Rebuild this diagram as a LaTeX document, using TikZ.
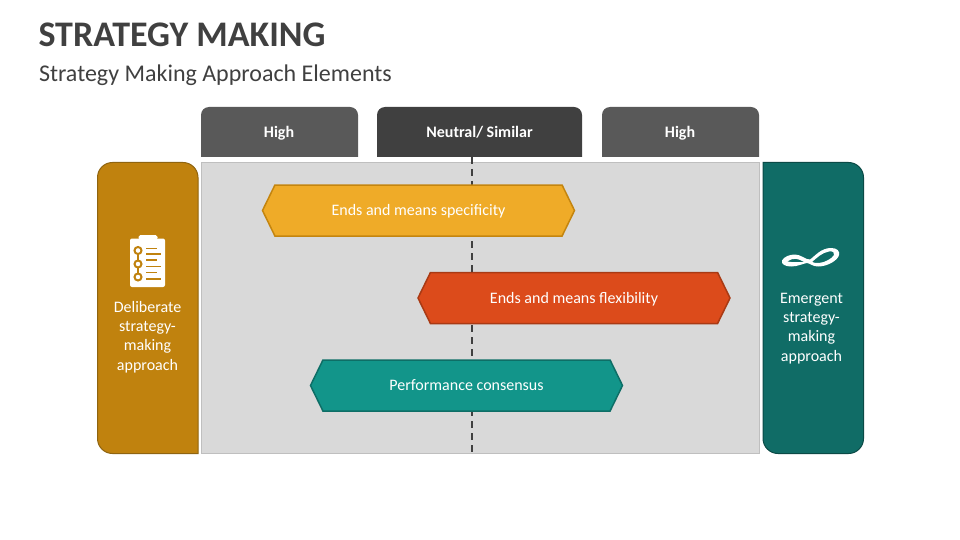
\documentclass[tikz,border=0pt]{standalone}
\usepackage{fontspec}
\setmainfont{Carlito}
\usetikzlibrary{positioning,shapes.symbols}
\definecolor{goldpanel}{HTML}{C0820E}
\definecolor{goldline}{HTML}{8F6410}
\definecolor{tealpanel}{HTML}{106C66}
\definecolor{tealline}{HTML}{0B4A46}
\definecolor{greypanel}{HTML}{D9D9D9}
\definecolor{greyline}{HTML}{BFBFBF}
\definecolor{tabside}{HTML}{595959}
\definecolor{tabmid}{HTML}{404040}
\definecolor{titlegrey}{HTML}{404040}
\definecolor{amberhex}{HTML}{EFAB28}
\definecolor{amberline}{HTML}{C4850F}
\definecolor{redhex}{HTML}{DC4B1B}
\definecolor{redline}{HTML}{A93A14}
\definecolor{tealhex}{HTML}{12958A}
\definecolor{tealhexline}{HTML}{0E6E66}
\tikzset{
  hexbar/.style={signal, signal to=east and west, signal pointer angle=128, line width=1.5pt,
                 minimum width=312pt, minimum height=51pt, inner sep=0pt,
                 text height=10pt, text depth=0pt,
                 text=white, font=\fontsize{16}{19}\selectfont},
  tablabel/.style={text=white, font=\fontsize{16}{19}\selectfont\bfseries},
  sidelabel/.style={text=white, align=center, font=\fontsize{16}{19.3}\selectfont},
  neutralline/.style={dashed, dash pattern=on 7pt off 5pt, line width=1.5pt, draw=tabmid},
  iconline/.style={draw=goldpanel, line width=1.8pt},
  icondot/.style={circle, draw=goldpanel, fill=white, line width=2pt, minimum size=7pt, inner sep=0pt},
}
\begin{document}
\begin{tikzpicture}[x=1pt, y=-1pt]
  \useasboundingbox (0,0) rectangle (960,540);

  % heading
  \node[anchor=west, text=titlegrey, font=\fontsize{36}{40}\selectfont\bfseries] (title) at (35,35) {STRATEGY MAKING};
  \node[anchor=west, text=titlegrey, font=\fontsize{24}{28}\selectfont] (subtitle) at (35.5,75.5) {Strategy Making Approach Elements};

  % tabs
  \fill[tabside, rounded corners=8pt] (201,157) -- (201,107) -- (358,107) [sharp corners] -- (358,157) -- cycle;
  \fill[tabmid, rounded corners=8pt] (377,157) -- (377,107) -- (582,107) [sharp corners] -- (582,157) -- cycle;
  \fill[tabside, rounded corners=8pt] (602,157) -- (602,107) -- (759,107) [sharp corners] -- (759,157) -- cycle;
  \node[tablabel] (tableft) at (279,133) {High};
  \node[tablabel] (tabmiddle) at (479.5,132.5) {Neutral/ Similar};
  \node[tablabel] (tabright) at (680,133) {High};

  % panels
  \draw[fill=greypanel, draw=greyline, line width=1pt] (201.5,162.5) rectangle (759.5,453.5);
  \draw[fill=goldpanel, draw=goldline, line width=1pt, rounded corners=15pt] (198,453.5) -- (97.5,453.5) -- (97.5,162.5) -- (198,162.5) [sharp corners] -- cycle;
  \draw[fill=tealpanel, draw=tealline, line width=1pt, rounded corners=15pt] (763,162.5) -- (863.5,162.5) -- (863.5,453.5) -- (763,453.5) [sharp corners] -- cycle;

  % neutral line
  \coordinate (linetop) at (472,157);
  \coordinate (linebottom) at (472,454);
  \draw[neutralline] (linetop) -- (linebottom);

  % bars
  \node[hexbar, draw=amberline, fill=amberhex] (specific) at (418.5,210.5) {Ends and means specificity};
  \node[hexbar, draw=redline, fill=redhex] (flexible) at (574,298) {Ends and means flexibility};
  \node[hexbar, draw=tealhexline, fill=tealhex] (consensus) at (466.5,385.5) {Performance consensus};

  % side texts
  \node[sidelabel] (deliberate) at (147.5,337) {Deliberate\\strategy-\\making\\approach};
  \node[sidelabel] (emergent) at (811.5,328.5) {Emergent\\strategy-\\making\\approach};

  % clipboard icon
  \fill[white, rounded corners=2pt] (130,238.5) rectangle (165,287);
  \fill[white, rounded corners=1.8pt] (138.5,235) rectangle (157.5,240);
  \draw[iconline] (138,250.5) -- (138,277);
  \foreach \y in {250.5,264,277}
    \node[icondot] at (138,\y) {};
  \foreach \y/\e in {248.5/157,254/161,260/157,266.5/161,272.5/157,279/161}
    \draw[iconline] (146,\y) -- (\e,\y);

  % infinity icon
  \fill[white, even odd rule]
    (782,260.5) .. controls (784,256.5) and (790,254.5) .. (795,254.5)
    .. controls (801,254.5) and (806,260) .. (810,259.5)
    .. controls (815,256) and (821,248) .. (831,248)
    .. controls (837,248) and (840,251) .. (839,255)
    .. controls (838,260) and (828,266.5) .. (818,266.5)
    .. controls (813,266.5) and (810,263.5) .. (807,263)
    .. controls (803,263.5) and (798,266.5) .. (791,266.5)
    .. controls (785,266.5) and (781,264) .. (782,260.5) -- cycle
    (787,261.5) .. controls (790,259.5) and (793,258.5) .. (796,258.8)
    .. controls (799,259) and (801,260.5) .. (804,262)
    .. controls (799,262) and (793,262.5) .. (787,261.5) -- cycle
    (812,262) .. controls (816,258.5) and (822,252.5) .. (829,251.5)
    .. controls (833,251) and (835,252.5) .. (834,255)
    .. controls (832,258.5) and (825,262.5) .. (819,263)
    .. controls (816,263.2) and (814,262.8) .. (812,262) -- cycle;
\end{tikzpicture}
\end{document}
